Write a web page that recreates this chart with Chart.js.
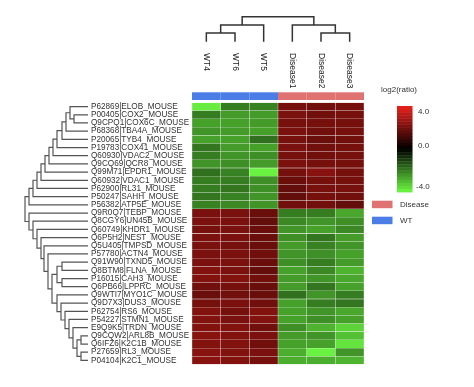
<!DOCTYPE html>
<html><head><meta charset="utf-8">
<script src="https://cdn.jsdelivr.net/npm/chart.js@4"></script>
<style>html,body{margin:0;padding:0;background:#fff;}canvas{display:block;}</style>
</head><body>
<canvas id="c" width="474" height="387"></canvas>
<script>
const rowLabels = ["P62869|ELOB_MOUSE","P00405|COX2_MOUSE","Q9CPQ1|COX6C_MOUSE","P68368|TBA4A_MOUSE","P20065|TYB4_MOUSE","P19783|COX41_MOUSE","Q60930|VDAC2_MOUSE","Q9CQ69|QCR8_MOUSE","Q99M71|EPDR1_MOUSE","Q60932|VDAC1_MOUSE","P62900|RL31_MOUSE","P50247|SAHH_MOUSE","P56382|ATP5E_MOUSE","Q9R0Q7|TEBP_MOUSE","Q8CGY6|UN45B_MOUSE","Q60749|KHDR1_MOUSE","Q6P5H2|NEST_MOUSE","Q5U405|TMPSD_MOUSE","P57780|ACTN4_MOUSE","Q91W90|TXND5_MOUSE","Q8BTM8|FLNA_MOUSE","P16015|CAH3_MOUSE","Q6PB66|LPPRC_MOUSE","Q9WTI7|MYO1C_MOUSE","Q9D7X3|DUS3_MOUSE","P62754|RS6_MOUSE","P54227|STMN1_MOUSE","E9Q9K5|TRDN_MOUSE","Q9CQW2|ARL8B_MOUSE","Q6IFZ6|K2C1B_MOUSE","P27659|RL3_MOUSE","P04104|K2C1_MOUSE"];
const columnLabels = ["WT4","WT6","WT5","Disease1","Disease2","Disease3"];
const columnGroups = ["WT","WT","WT","Disease","Disease","Disease"];
const groupNames = ["Disease","WT"];
const colorbarTicks = [4.0, 0.0, -4.0];

const wt4 = [-3.8,-2.0,-2.6,-2.4,-2.6,-1.9,-2.0,-2.4,-1.8,-2.0,-2.0,-1.9,-2.1, 2.1,2.1,2.0,2.1,2.1,2.1,2.1,2.2,2.2,1.9,1.8,2.0,2.2,2.2,2.2,2.3,2.2,2.3,2.3];
const wt6 = [-2.0,-2.5,-2.6,-2.5,-2.6,-2.5,-2.4,-2.3,-2.1,-2.0,-1.9,-2.1,-2.2, 2.1,2.1,2.1,2.1,2.0,2.1,2.1,2.1,2.2,2.0,1.9,2.1,2.0,2.1,2.2,2.2,2.2,2.2,2.2];
const wt5 = [-2.1,-2.5,-2.5,-2.6,-1.8,-2.6,-2.3,-2.5,-3.9,-2.3,-2.3,-2.4,-2.4, 1.8,1.7,1.8,1.8,1.8,1.9,1.8,1.7,1.9,1.8,1.8,1.9,2.2,2.2,1.9,2.1,1.9,2.1,2.0];
const disease1 = [2.0,2.1,2.0,2.1,2.0,2.1,2.0,2.1,2.0,1.8,1.7,1.7,1.9, -2.0,-2.2,-2.4,-2.3,-2.5,-2.4,-2.3,-2.6,-2.5,-2.5,-1.8,-2.6,-2.6,-2.6,-2.3,-2.5,-2.6,-2.8,-2.8];
const disease2 = [1.9,1.9,2.0,1.9,1.8,1.9,1.9,2.0,2.3,2.0,2.0,2.0,1.9, -2.0,-2.4,-2.6,-1.9,-2.1,-2.3,-2.0,-2.2,-2.4,-1.9,-2.4,-2.0,-2.4,-2.3,-2.9,-2.4,-2.6,-3.9,-2.8];
const disease3 = [2.0,2.0,2.0,2.0,1.9,2.0,2.0,2.0,2.0,2.0,2.0,1.9,1.7, -2.7,-2.3,-2.2,-2.5,-2.4,-2.6,-2.5,-2.9,-2.7,-2.6,-2.0,-1.9,-2.7,-2.6,-3.4,-3.1,-3.7,-2.4,-2.9];

// row dendrogram (linkage: leaves 0..31, new clusters numbered from 32)
const rowMergeA = [1,0,33,34,35,36,37,38,39,40,41,42, 28,30,44,27,26,25,24,23,19,21,52,54,18,17,16,15,14,13,43];
const rowMergeB = [2,32,3,4,5,6,7,8,9,10,11,12, 29,31,45,46,47,48,49,50,20,22,53,51,55,56,57,58,59,60,61];
const rowMergeH = [14,18,22,26,31,35,39,43,47,51,55,59, 7,7,11,15,19,23,27,31,26,26,31,36,40,44,47,51,55,59,63];
// column dendrogram (leaves 0..5, clusters from 6)
const colMergeA = [0,6,4,3,7];
const colMergeB = [1,2,5,8,9];
const colMergeH = [0.35,0.67,0.35,0.67,1.0];

const columns = [wt4, wt6, wt5, disease1, disease2, disease3];

function valueColor(v){
  const t = Math.min(1, Math.abs(v)/4);
  if (v >= 0) return `rgb(${Math.round(235*t)},${Math.round(32*t)},${Math.round(26*t)})`;
  return `rgb(${Math.round(108*t)},${Math.round(248*t)},${Math.round(66*t)})`;
}
const groupColor = {WT:'#4a7de6', Disease:'#e07272'};
const FONT = '"Liberation Sans", Arial, sans-serif';

const datasets = columns.map((vals, i) => ({
  label: columnLabels[i],
  data: vals.map(() => 1),
  backgroundColor: vals.map(valueColor),
  borderColor: 'rgba(255,255,255,0.07)',
  borderWidth: 0.5,
  borderSkipped: false,
  barPercentage: 1,
  categoryPercentage: 1
}));

const decor = {
  id: 'decor',
  afterDraw(chart){
    const ctx = chart.ctx, xs = chart.scales.x, ys = chart.scales.y, ca = chart.chartArea;
    ctx.save();
    // row dendrogram
    const leafX = 88, unit = 1;
    const nodes = rowLabels.map((_, i) => ({x: leafX, y: ys.getPixelForValue(i)}));
    ctx.strokeStyle = '#555'; ctx.lineWidth = 1.2;
    ctx.beginPath();
    for (let k = 0; k < rowMergeA.length; k++){
      const a = nodes[rowMergeA[k]], b = nodes[rowMergeB[k]];
      const hx = leafX - rowMergeH[k]*unit;
      ctx.moveTo(a.x, a.y); ctx.lineTo(hx, a.y); ctx.lineTo(hx, b.y); ctx.lineTo(b.x, b.y);
      nodes.push({x: hx, y: (a.y + b.y)/2});
    }
    ctx.stroke();
    // column dendrogram
    const leafY = 41.7, cunit = 25;
    const cnodes = columnLabels.map((_, i) => ({x: xs.getPixelForValue(i+0.5), y: leafY}));
    ctx.strokeStyle = '#333'; ctx.lineWidth = 1.5;
    ctx.beginPath();
    for (let k = 0; k < colMergeA.length; k++){
      const a = cnodes[colMergeA[k]], b = cnodes[colMergeB[k]];
      const hy = leafY - colMergeH[k]*cunit;
      ctx.moveTo(a.x, a.y); ctx.lineTo(a.x, hy); ctx.lineTo(b.x, hy); ctx.lineTo(b.x, b.y);
      cnodes.push({x: (a.x + b.x)/2, y: hy});
    }
    ctx.stroke();
    // column labels (rotated)
    ctx.fillStyle = '#222'; ctx.font = '8.5px ' + FONT;
    ctx.textAlign = 'left'; ctx.textBaseline = 'middle';
    columnLabels.forEach((lab, i) => {
      ctx.save();
      ctx.translate(xs.getPixelForValue(i+0.5), 53);
      ctx.rotate(Math.PI/2);
      ctx.fillText(lab, 0, 0);
      ctx.restore();
    });
    // group bar
    columnGroups.forEach((g, i) => {
      const x0 = xs.getPixelForValue(i), x1 = xs.getPixelForValue(i+1);
      ctx.fillStyle = groupColor[g];
      ctx.fillRect(x0, ca.top - 10.2, x1 - x0, 7.7);
    });
    // colour scale legend
    ctx.fillStyle = '#333'; ctx.font = '8px ' + FONT;
    ctx.textAlign = 'left'; ctx.textBaseline = 'middle';
    ctx.fillText('log2(ratio)', 381, 90);
    const bx = 397, bw = 15.5, by0 = 106, by1 = 192, steps = 28;
    for (let s = 0; s < steps; s++){
      const v = 4 - 8*(s+0.5)/steps;
      ctx.fillStyle = valueColor(v);
      const ya = by0 + (by1-by0)*s/steps, yb = by0 + (by1-by0)*(s+1)/steps;
      ctx.fillRect(bx, ya, bw, yb - ya + 0.4);
    }
    ctx.fillStyle = '#333';
    const tickY = {"4": 111.7, "0": 146, "-4": 187};
    colorbarTicks.forEach(t => {
      ctx.fillText(t.toFixed(1), t < 0 ? 416 : 418, tickY[String(t)]);
    });
    // group legend
    groupNames.forEach((g, i) => {
      const y = 200.7 + i*16;
      ctx.fillStyle = groupColor[g];
      ctx.fillRect(372, y, 20.5, 7.5);
      ctx.fillStyle = '#333';
      ctx.fillText(g, 400, y + 4);
    });
    ctx.restore();
  }
};

new Chart(document.getElementById('c'), {
  type: 'bar',
  data: { labels: rowLabels, datasets },
  options: {
    indexAxis: 'y',
    responsive: false,
    maintainAspectRatio: false,
    animation: false,
    events: [],
    layout: { padding: { left: 91, right: 110, top: 102.5, bottom: 22.5 } },
    plugins: { legend: { display: false }, tooltip: { enabled: false } },
    scales: {
      x: { stacked: true, min: 0, max: 6, display: false },
      y: {
        stacked: true,
        grid: { display: false, drawTicks: false },
        border: { display: false },
        ticks: { crossAlign: 'far', padding: 0, autoSkip: false, color: '#333',
                 font: { family: FONT, size: 8.2 } },
        afterFit(scale){ scale.width = 101; }
      }
    }
  },
  plugins: [decor]
});
</script>
</body></html>
